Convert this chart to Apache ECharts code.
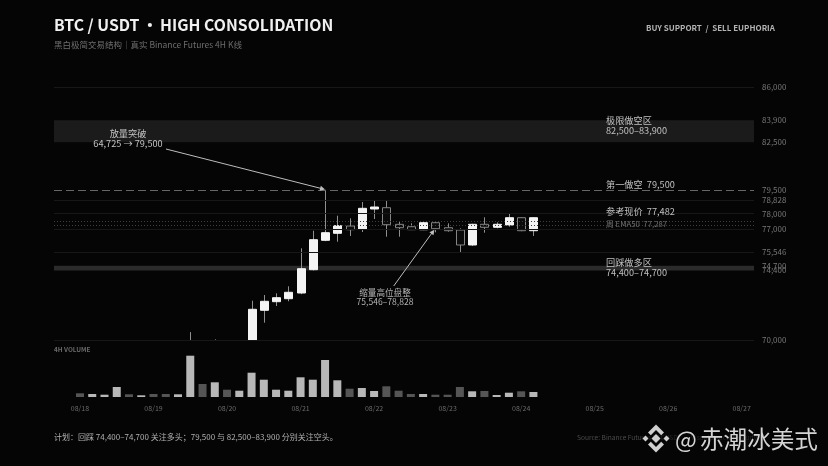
<!DOCTYPE html>
<html><head><meta charset="utf-8">
<style>html,body{margin:0;padding:0;background:#050505}#c{width:828px;height:466px}</style>
<script src="https://cdn.jsdelivr.net/npm/echarts@6/dist/echarts.min.js"></script>
</head><body><div id="c"></div>
<script>
const dateLabels = ['08/18','08/19','08/20','08/21','08/22','08/23','08/24','08/25','08/26','08/27'];
const opens  = [66080,66000,66060,66100,66700,66600,66650,66560,66480,65300,68800,67900,69100,68700,69000,71878,72422,72612,72972,74446,76305,76748,77209,77000,78284,78366,77315,77165,76975,77418,77100,76956,76008,77317,77127,77272,77734,76912];
const closes = [66000,66060,66100,66700,66600,66650,66560,66480,66520,68800,67900,69100,68700,69000,71941,72447,72675,73017,74509,76343,76786,77228,76975,78328,78411,77291,77101,76975,77418,77039,76912,76008,77317,77127,77317,77734,76912,77734];
const lows   = [65900,65900,65950,66000,66500,66500,66450,66400,66350,65100,67700,67700,68500,68500,68600,71094,72150,72447,72900,74400,76250,76216,76577,76830,77652,76533,76533,76950,76950,76810,76850,75546,75950,76785,77064,77165,76880,76580];
const highs  = [66200,66150,66200,66800,66800,66750,66700,66600,66600,70500,69200,70040,69300,69400,72485,72846,72953,73396,75799,76912,79500,77861,77696,78727,78828,78828,77480,77379,77480,77480,77379,77064,77350,77760,77443,78030,77760,77760];
const volumes = [3.7,3,2.3,10,2.7,1.7,3,3,2.7,41.3,13,14.7,7.3,6.3,24.3,17.3,7.3,6.3,19.7,17.3,37,16.7,8.3,9,6,10.7,6.3,3,3,2.3,2.3,10,5.7,6,2,4.3,5.7,5];
const priceTicks = [86000,83900,82500,79500,78828,78000,77000,75546,74700,74400,70000];
const faintLevels = [86000,78828,78000,77000,75546,70000];
const dottedLevels = [77482,77287];
const dashedLevel = 79500;
const zones = [[82500,83900,'#1b1b1b'],[74400,74700,'#2b2b2b']];
const perDay = 6;

const FONT = '"Noto Sans CJK SC","Noto Sans",sans-serif';
const candleData = opens.map((o,i)=>[i,o,closes[i],lows[i],highs[i]]);
const volumeData = volumes.map((v,i)=>({value:[i,v],itemStyle:{color:closes[i]>=opens[i]?'#b8b8b8':'#555555'}}));
const xTicks = dateLabels.map((_,i)=>i*perDay);
const txt=(x,y,text,size,fill,extra)=>({type:'text',x,y,z:100,silent:true,style:Object.assign({x:0,y:0,text,fontSize:size,fill,fontFamily:FONT,verticalAlign:'middle'},extra||{})});
const poly=(pts)=>({type:'polygon',z:101,shape:{points:pts},style:{fill:'#cfcfcf'},silent:true});

function renderCandle(params,api){
  const i=api.value(0),o=api.value(1),c=api.value(2),l=api.value(3),h=api.value(4);
  const x=Math.round(api.coord([i,o])[0]);
  const yO=api.coord([i,o])[1],yC=api.coord([i,c])[1],yL=api.coord([i,l])[1],yH=api.coord([i,h])[1];
  const up=c>=o, w=8;
  return {type:'group',children:[
    {type:'line',shape:{x1:x+.5,y1:yH,x2:x+.5,y2:yL},style:{stroke:'#8f8f8f',lineWidth:1}},
    {type:'rect',shape:{x:x-w/2+.5,y:Math.min(yO,yC),width:w,height:Math.max(1.5,Math.abs(yO-yC))},
     style:{fill:up?'#f4f4f4':'#0a0a0a',stroke:up?'#f4f4f4':'#858585',lineWidth:1}}
  ]};
}

const chart = echarts.init(document.getElementById('c'),null,{renderer:'canvas'});
chart.setOption({
  backgroundColor:'#050505',
  animation:false,
  textStyle:{fontFamily:FONT},
  grid:[
    {left:54,width:700,top:87,height:253},
    {left:54,width:700,top:352,height:45}
  ],
  xAxis:[
    {type:'value',gridIndex:0,min:-2.12,max:55,show:false,splitLine:{show:false}},
    {type:'value',gridIndex:1,min:-2.12,max:55,splitLine:{show:false},axisLine:{show:false},axisTick:{show:false},
     axisLabel:{customValues:xTicks,formatter:v=>dateLabels[Math.round(v/perDay)],color:'#6a6a6a',fontSize:7,margin:8,fontFamily:FONT,hideOverlap:false}}
  ],
  yAxis:[
    {type:'value',gridIndex:0,min:70000,max:86000,position:'right',splitLine:{show:false},axisLine:{show:false},axisTick:{show:false},
     axisLabel:{customValues:priceTicks,formatter:v=>v.toLocaleString('en-US'),color:'#777',fontSize:8,margin:8,align:'left',fontFamily:FONT,hideOverlap:false}},
    {type:'value',gridIndex:1,min:0,max:45,show:false,splitLine:{show:false}}
  ],
  series:[
    {type:'line',xAxisIndex:0,yAxisIndex:0,data:[],z:1,silent:true,
     markArea:{silent:true,data:zones.map(z=>[{yAxis:z[0],itemStyle:{color:z[2]}},{yAxis:z[1]}])},
     markLine:{silent:true,symbol:'none',label:{show:false},data:[
       ...faintLevels.map(v=>({yAxis:v,lineStyle:{color:'#171717',width:1,type:'solid'}})),
       ...dottedLevels.map(v=>({yAxis:v,lineStyle:{color:'#3e3e3e',width:1,type:[1,2]}})),
       {yAxis:dashedLevel,lineStyle:{color:'#666',width:1,type:[8,4]}}
     ]}},
    {type:'custom',xAxisIndex:0,yAxisIndex:0,data:candleData,z:3,silent:true,clip:true,
     encode:{x:0,y:[1,2,3,4]},renderItem:renderCandle},
    {type:'line',xAxisIndex:0,yAxisIndex:0,data:[],z:4,silent:true,
     markLine:{silent:true,symbol:['none','triangle'],symbolSize:5,label:{show:false},
       lineStyle:{color:'#bdbdbd',width:1,type:'solid'},
       data:[
         [{coord:[7.02,82079]},{coord:[19.8,79560]}],
         [{coord:[25.6,73415]},{coord:[28.8,76850]}]
       ]}},
    {type:'bar',xAxisIndex:1,yAxisIndex:1,data:volumeData,barWidth:8,silent:true,z:2}
  ],
  graphic:{elements:[
    txt(54,25,'BTC / USDT',15.8,'#f0f0f0',{fontWeight:'bold'}),
    txt(150,25,'•',15.8,'#f0f0f0',{fontWeight:'bold',align:'center'}),
    txt(160,25,'HIGH CONSOLIDATION',15.8,'#f0f0f0',{fontWeight:'bold'}),
    txt(54,45,'黑白极简交易结构｜真实 Binance Futures 4H K线',8.5,'#6e6e6e'),
    txt(646,27.5,'BUY SUPPORT  /  SELL EUPHORIA',8,'#b4b4b4',{fontWeight:'bold'}),
    txt(128,134,'放量突破',9.2,'#c4c4c4',{align:'center'}),
    txt(128,144,'64,725 → 79,500',9.2,'#c4c4c4',{align:'center'}),
    txt(606,121,'极限做空区',9.2,'#c0c0c0'),
    txt(606,130.5,'82,500–83,900',9.2,'#c0c0c0'),
    txt(606,184.5,'第一做空  79,500',9.2,'#c0c0c0'),
    txt(606,212,'参考现价  77,482',9.2,'#c0c0c0'),
    txt(606,224,'周 EMA50  77,287',7.8,'#707070'),
    txt(606,263,'回踩做多区',9.2,'#c0c0c0'),
    txt(606,272.5,'74,400–74,700',9.2,'#c0c0c0'),
    txt(385,293,'缩量高位盘整',8.6,'#b0b0b0',{align:'center'}),
    txt(385,302,'75,546–78,828',8.6,'#b0b0b0',{align:'center'}),
    txt(54,350,'4H VOLUME',6.4,'#6a6a6a',{fontWeight:'bold'}),
    txt(54,437,'计划：回踩 74,400–74,700 关注多头；79,500 与 82,500–83,900 分别关注空头。',8,'#b0b0b0'),
    txt(577,437,'Source: Binance Futures BTCUSDT · Visual structure study',6.6,'#4c4c4c'),
    {type:'group',x:656,y:438.5,z:101,silent:true,children:[
      poly([[0,-4.5],[4.5,0],[0,4.5],[-4.5,0]]),
      poly([[-13.5,0],[-10.5,-3],[-7.5,0],[-10.5,3]]),
      poly([[13.5,0],[10.5,-3],[7.5,0],[10.5,3]]),
      poly([[0,-14],[8,-6],[5.2,-3.2],[0,-8.4],[-5.2,-3.2],[-8,-6]]),
      poly([[0,14],[8,6],[5.2,3.2],[0,8.4],[-5.2,3.2],[-8,6]])
    ]},
    {type:'rect',z:100,silent:true,shape:{x:642,y:425,width:180,height:28},style:{fill:'rgba(5,5,5,0.55)'}},
    txt(675,439,'@',23,'#d4d4d4',{}),
    txt(700,439,'赤潮冰美式',23.6,'#d4d4d4')
  ]}
});
</script></body></html>
